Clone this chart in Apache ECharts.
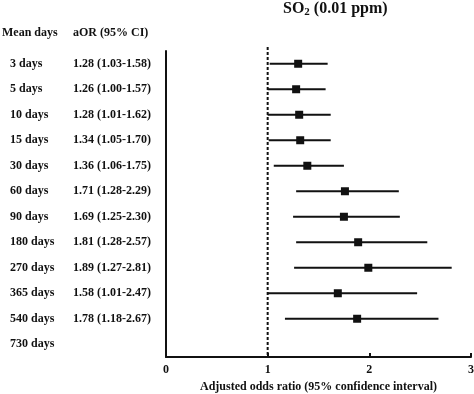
<!DOCTYPE html>
<html>
<head>
<meta charset="utf-8">
<script src="https://cdn.jsdelivr.net/npm/echarts@6/dist/echarts.min.js"></script>
<style>html,body{margin:0;padding:0;background:#fff;}#c{width:474px;height:394px;}</style>
</head>
<body>
<div id="c"></div>
<script>
// Categories (mean days) and printed labels
var days = ['3 days','5 days','10 days','15 days','30 days','60 days','90 days','180 days','270 days','365 days','540 days','730 days'];
var aorLabels = ['1.28 (1.03-1.58)','1.26 (1.00-1.57)','1.28 (1.01-1.62)','1.34 (1.05-1.70)','1.36 (1.06-1.75)','1.71 (1.28-2.29)','1.69 (1.25-2.30)','1.81 (1.28-2.57)','1.89 (1.27-2.81)','1.58 (1.01-2.47)','1.78 (1.18-2.67)',''];
// Plotted values (730 days has none)
var estimate = [1.30, 1.28, 1.31, 1.32, 1.39, 1.76, 1.75, 1.89, 1.99, 1.69, 1.88, null];
var lower    = [1.02, 1.00, 1.00, 1.01, 1.06, 1.28, 1.25, 1.28, 1.26, 1.00, 1.17, null];
var upper    = [1.59, 1.57, 1.62, 1.62, 1.75, 2.29, 2.30, 2.57, 2.81, 2.47, 2.68, null];
var xTicks = [0, 1, 2, 3];
var refValue = 1;

var FONT = 'Liberation Serif';
var INK = '#111';

var barData = [];
for (var i = 0; i < days.length; i++) {
  if (estimate[i] != null) barData.push([lower[i], upper[i], estimate[i], i]);
}

var chart = echarts.init(document.getElementById('c'));
chart.setOption({
  backgroundColor: '#fff',
  animation: false,
  title: {
    text: '{a|SO}{b|2}{a| (0.01 ppm)}',
    left: 283, top: 0, padding: 0,
    textStyle: {
      rich: {
        a: {fontFamily: FONT, fontWeight: 'bold', fontSize: 16, color: INK},
        b: {fontFamily: FONT, fontWeight: 'bold', fontSize: 11, color: INK, padding: [7, 0, 0, 0]}
      }
    }
  },
  graphic: [
    {type: 'text', left: 2, top: 27, style: {text: 'Mean days', font: 'bold 12px "Liberation Serif"', fill: INK}},
    {type: 'text', left: 73, top: 27, style: {text: 'aOR (95% CI)', font: 'bold 12px "Liberation Serif"', fill: INK}}
  ],
  grid: {left: 166, right: 3, top: 51, bottom: 37, containLabel: false, outerBoundsMode: 'none'},
  xAxis: {
    type: 'value', min: 0, max: 3, interval: 1,
    axisLine: {show: true, lineStyle: {color: INK, width: 2}},
    axisTick: {show: true, inside: true, length: 4, lineStyle: {color: INK, width: 2}},
    splitLine: {show: false},
    axisLabel: {
      margin: 7, color: INK, fontFamily: FONT, fontWeight: 'bold', fontSize: 12,
      formatter: function (v) { return xTicks.indexOf(v) >= 0 ? String(v) : ''; }
    },
    name: 'Adjusted odds ratio (95% confidence interval)',
    nameLocation: 'middle', nameGap: 24,
    nameTextStyle: {color: INK, fontFamily: FONT, fontWeight: 'bold', fontSize: 12}
  },
  yAxis: [
    {
      type: 'category', data: days, inverse: true, position: 'left',
      axisLine: {show: true, onZero: false, lineStyle: {color: INK, width: 2}},
      axisTick: {show: false},
      splitLine: {show: false},
      axisLabel: {margin: 156, align: 'left', color: INK, fontFamily: FONT, fontWeight: 'bold', fontSize: 12}
    },
    {
      type: 'category', data: aorLabels, inverse: true, position: 'left',
      axisLine: {show: false}, axisTick: {show: false}, splitLine: {show: false},
      axisLabel: {margin: 93, align: 'left', color: INK, fontFamily: FONT, fontWeight: 'bold', fontSize: 12}
    }
  ],
  series: [
    {
      type: 'custom',
      data: [[refValue]],
      renderItem: function (params, api) {
        var x = api.coord([api.value(0), 0])[0];
        var cs = params.coordSys;
        return {
          type: 'line',
          shape: {x1: x, y1: cs.y - 4, x2: x, y2: cs.y + cs.height},
          style: {stroke: INK, lineWidth: 2, lineDash: [3, 2]}
        };
      },
      z: 1
    },
    {
      type: 'custom',
      data: barData,
      encode: {x: [0, 1, 2], y: 3},
      renderItem: function (params, api) {
        var yi = api.value(3);
        var pLo = api.coord([api.value(0), yi]);
        var pHi = api.coord([api.value(1), yi]);
        var pE = api.coord([api.value(2), yi]);
        var s = 8;
        return {
          type: 'group',
          children: [
            {type: 'line', shape: {x1: pLo[0], y1: pLo[1], x2: pHi[0], y2: pHi[1]}, style: {stroke: INK, lineWidth: 2}},
            {type: 'rect', shape: {x: pE[0] - s / 2, y: pE[1] - s / 2, width: s, height: s}, style: {fill: INK}}
          ]
        };
      },
      z: 2
    }
  ]
});
</script>
</body>
</html>
